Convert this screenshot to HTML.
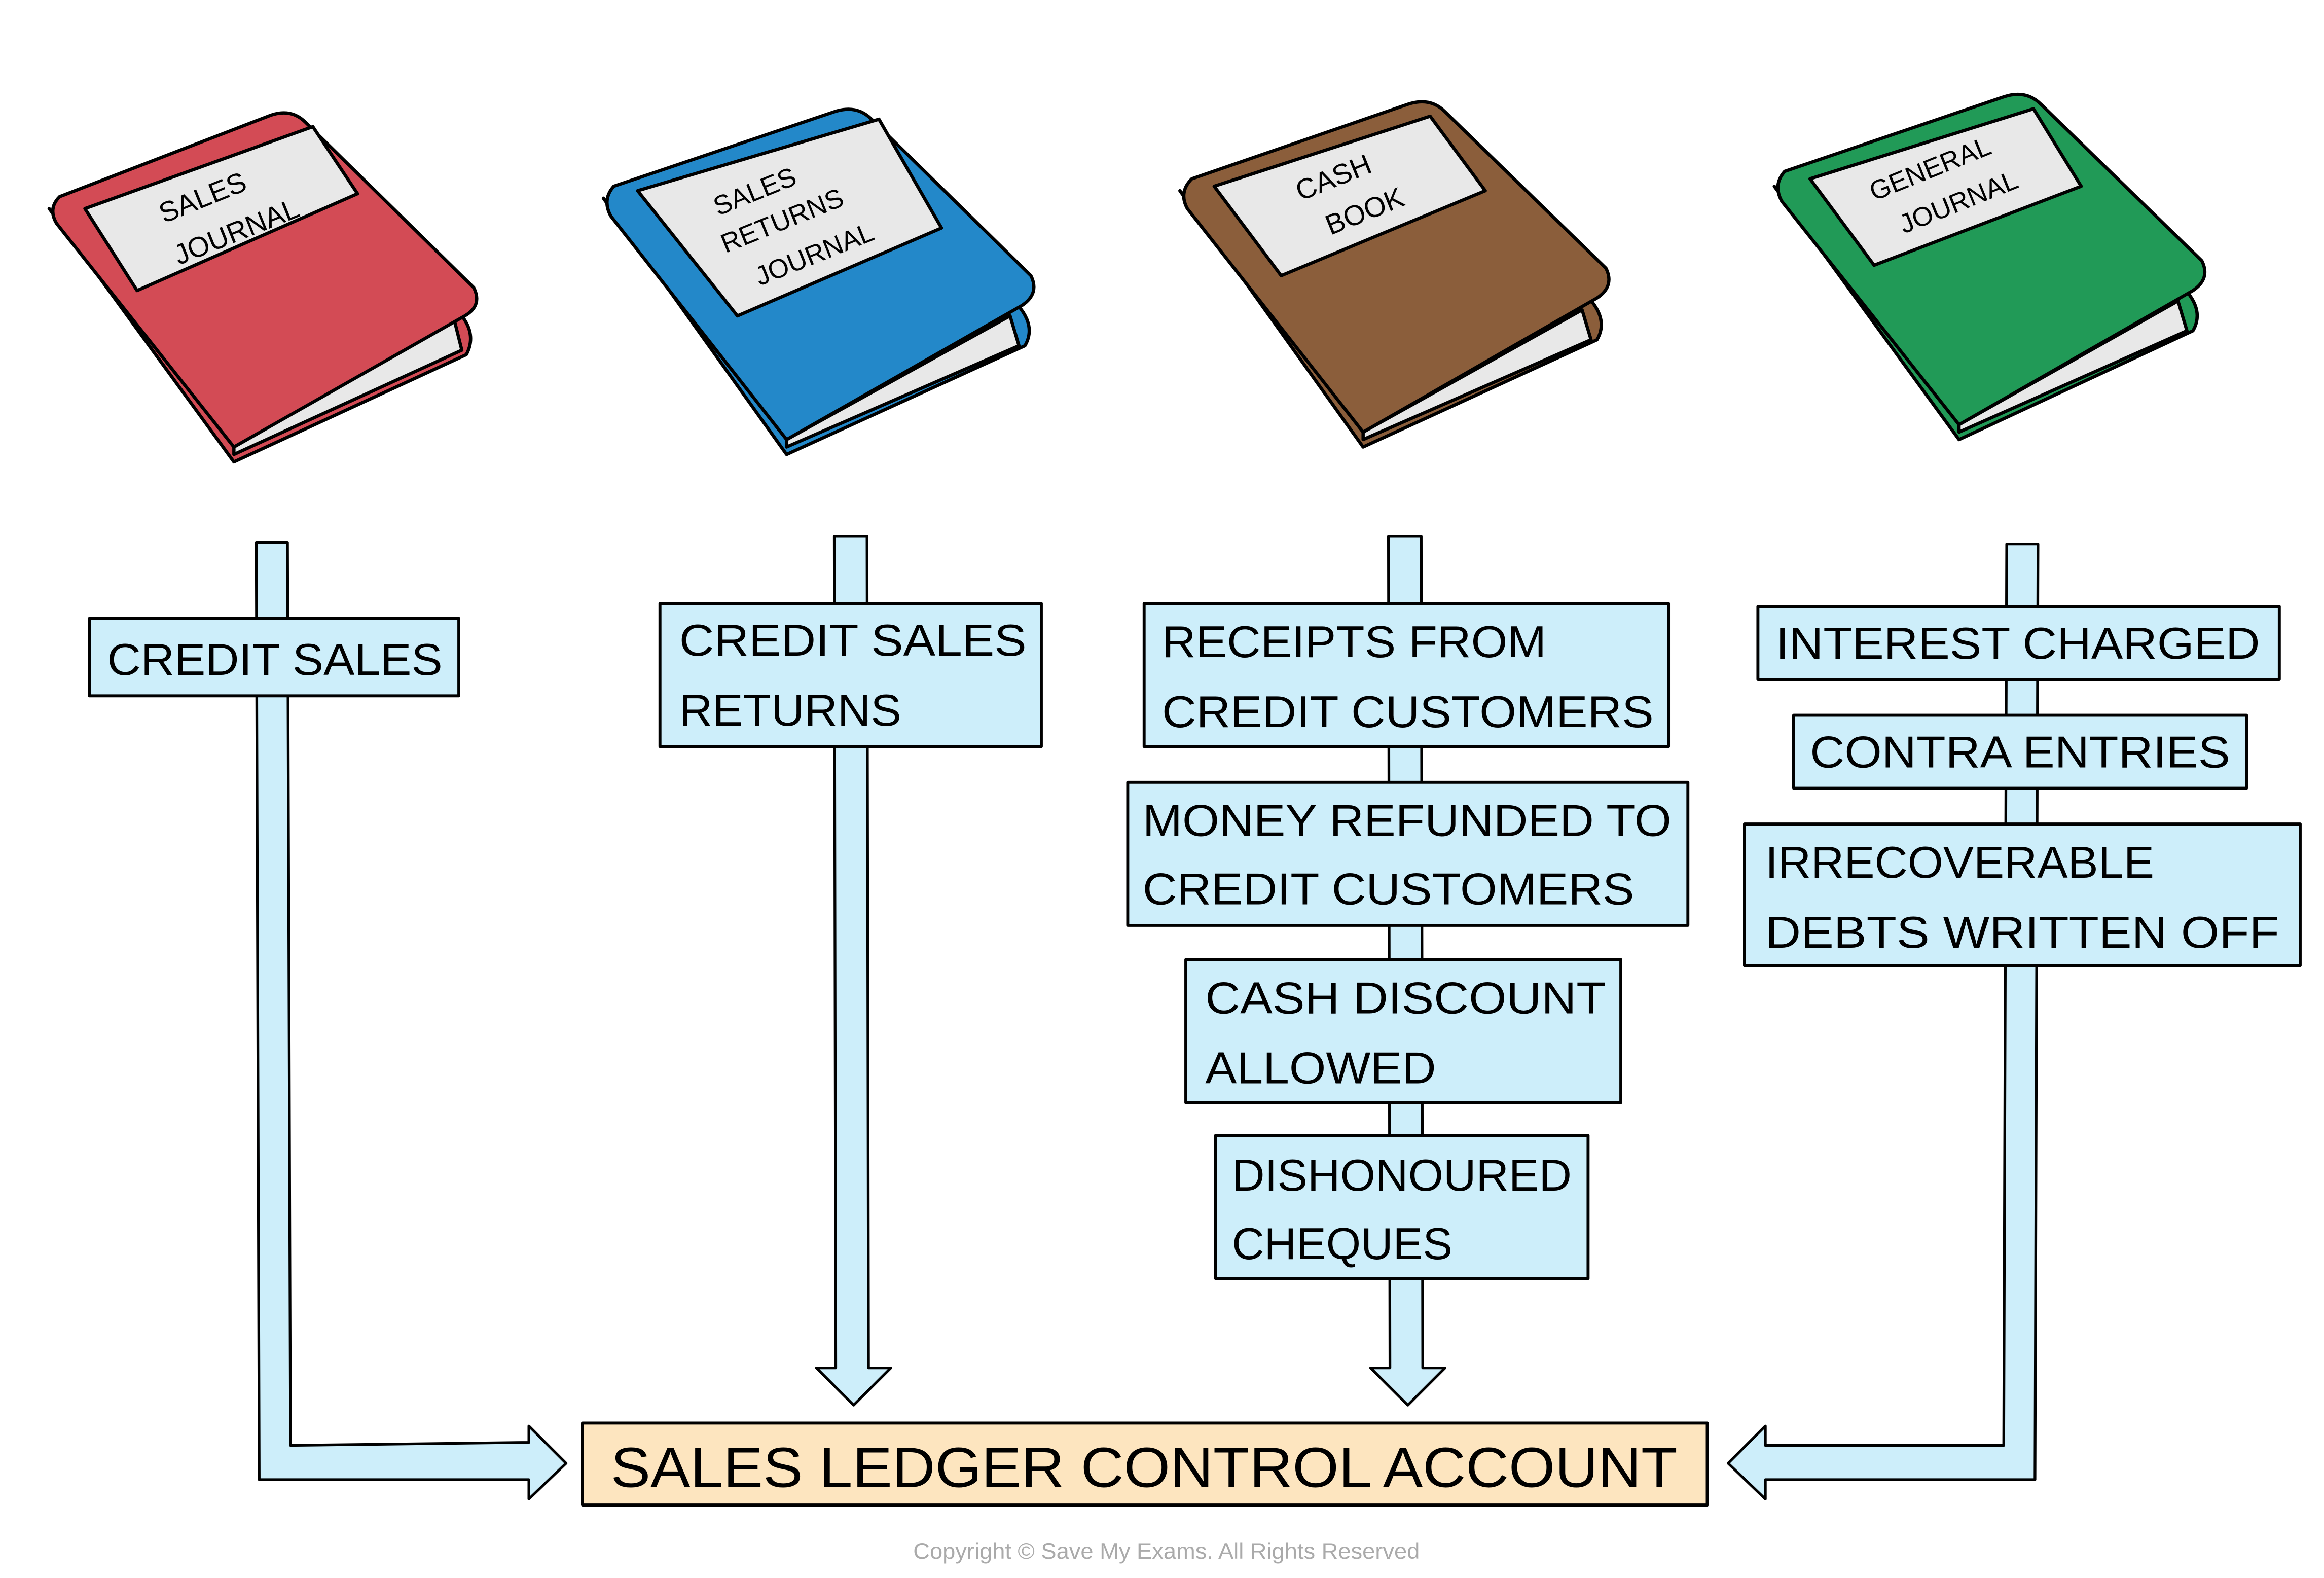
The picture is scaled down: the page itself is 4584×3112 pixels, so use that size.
<!DOCTYPE html>
<html><head><meta charset="utf-8"><style>
html,body{margin:0;padding:0;background:#fff}
svg{display:block}
text{font-family:"Liberation Sans",sans-serif}
</style></head><body>
<svg width="4584" height="3112" viewBox="0 0 1560 1059" preserveAspectRatio="none" xmlns="http://www.w3.org/2000/svg">
<rect width="1560" height="1059" fill="#fff"/>
<g stroke="#000" stroke-width="2.2" stroke-linejoin="round">
<!-- Books -->
<g id="b1">
<path d="M33,140 L157,310 L313,238 Q320,225 310,212 L300,200 L150,280 Z" fill="#d34b55"/>
<path d="M157,300 L305,215 L310,235 L157,305 Z" fill="#e8e8e8"/>
<path d="M40,132 L180,78 Q195,72 205,82 L318,193 Q324,205 312,212 L157,300 L38,150 Q32,140 40,132 Z" fill="#d34b55"/>
<path d="M57,140 L210,85 L240,130 L92,195 Z" fill="#e8e8e8"/>
<text x="0" y="0" font-size="19" stroke="none" transform="translate(110,150) rotate(-22)">SALES</text>
<text x="0" y="0" font-size="19" stroke="none" transform="translate(120,178) rotate(-22)">JOURNAL</text>
</g>
<g>
<path d="M405,133 L528,305 L688,232 Q695,220 685,207 L675,195 L520,275 Z" fill="#2388c9"/>
<path d="M528,295 L678,212 L684,232 L528,300 Z" fill="#e8e8e8"/>
<path d="M412,125 L560,75 Q575,70 585,80 L692,185 Q698,197 686,205 L528,295 L410,145 Q404,134 412,125 Z" fill="#2388c9"/>
<path d="M428,128 L590,80 L632,153 L495,212 Z" fill="#e8e8e8"/>
<text font-size="18" stroke="none" transform="translate(482,145) rotate(-22)">SALES</text>
<text font-size="18" stroke="none" transform="translate(487,170) rotate(-22)">RETURNS</text>
<text font-size="18" stroke="none" transform="translate(510,192) rotate(-22)">JOURNAL</text>
</g>
<g>
<path d="M792,128 L915,300 L1072,228 Q1079,216 1069,203 L1059,191 L905,270 Z" fill="#8b5e3b"/>
<path d="M915,290 L1062,208 L1068,228 L915,295 Z" fill="#e8e8e8"/>
<path d="M800,120 L945,70 Q960,65 970,75 L1078,180 Q1084,192 1072,200 L915,290 L797,140 Q791,129 800,120 Z" fill="#8b5e3b"/>
<path d="M815,125 L960,78 L997,128 L860,185 Z" fill="#e8e8e8"/>
<text font-size="19" stroke="none" transform="translate(873,135) rotate(-22)">CASH</text>
<text font-size="19" stroke="none" transform="translate(893,158) rotate(-22)">BOOK</text>
</g>
<g>
<path d="M1191,125 L1315,295 L1472,222 Q1479,210 1469,197 L1459,185 L1305,265 Z" fill="#219a57"/>
<path d="M1315,285 L1462,202 L1468,222 L1315,290 Z" fill="#e8e8e8"/>
<path d="M1198,115 L1345,65 Q1360,60 1370,70 L1478,175 Q1484,187 1472,195 L1315,285 L1196,135 Q1190,124 1198,115 Z" fill="#219a57"/>
<path d="M1215,120 L1365,73 L1397,125 L1258,178 Z" fill="#e8e8e8"/>
<text font-size="18" stroke="none" transform="translate(1258,135) rotate(-22)">GENERAL</text>
<text font-size="18" stroke="none" transform="translate(1278,157) rotate(-22)">JOURNAL</text>
</g>
<!-- Arrows -->
<g fill="#cdeefa" stroke-width="1.8">
<path d="M172,364 L193,364 L195,970 L355,968 L355,957 L380,982 L355,1006 L355,993 L174,993 Z"/>
<path d="M560,360 L582,360 L583,918 L598,918 L573,943 L548,918 L561,918 Z"/>
<path d="M932,360 L954,360 L955,918 L970,918 L945,943 L920,918 L933,918 Z"/>
<path d="M1347,365 L1368,365 L1366,993 L1185,993 L1185,1006 L1160,982 L1185,957 L1185,970 L1345,970 Z"/>
</g>
<!-- Boxes -->
<g fill="#cdeefa" stroke-width="2">
<rect x="60" y="415" width="248" height="52"/>
<rect x="443" y="405" width="256" height="96"/>
<rect x="768" y="405" width="352" height="96"/>
<rect x="757" y="525" width="376" height="96"/>
<rect x="796" y="644" width="292" height="96"/>
<rect x="816" y="762" width="250" height="96"/>
<rect x="1180" y="407" width="350" height="49"/>
<rect x="1204" y="480" width="304" height="49"/>
<rect x="1171" y="553" width="373" height="95"/>
<rect x="391" y="955" width="755" height="55" fill="#fde5bf"/>
</g>
</g>
<g font-size="30" fill="#000">
<text x="72" y="453" textLength="225" lengthAdjust="spacingAndGlyphs">CREDIT SALES</text>
<text x="456" y="440" textLength="233" lengthAdjust="spacingAndGlyphs">CREDIT SALES</text>
<text x="456" y="487" textLength="149" lengthAdjust="spacingAndGlyphs">RETURNS</text>
<text x="780" y="441" textLength="258" lengthAdjust="spacingAndGlyphs">RECEIPTS FROM</text>
<text x="780" y="488" textLength="330" lengthAdjust="spacingAndGlyphs">CREDIT CUSTOMERS</text>
<text x="767" y="561" textLength="355" lengthAdjust="spacingAndGlyphs">MONEY REFUNDED TO</text>
<text x="767" y="607" textLength="330" lengthAdjust="spacingAndGlyphs">CREDIT CUSTOMERS</text>
<text x="809" y="680" textLength="269" lengthAdjust="spacingAndGlyphs">CASH DISCOUNT</text>
<text x="809" y="727" textLength="155" lengthAdjust="spacingAndGlyphs">ALLOWED</text>
<text x="827" y="799" textLength="228" lengthAdjust="spacingAndGlyphs">DISHONOURED</text>
<text x="827" y="845" textLength="148" lengthAdjust="spacingAndGlyphs">CHEQUES</text>
<text x="1192" y="442" textLength="325" lengthAdjust="spacingAndGlyphs">INTEREST CHARGED</text>
<text x="1215" y="515" textLength="282" lengthAdjust="spacingAndGlyphs">CONTRA ENTRIES</text>
<text x="1185" y="589" textLength="261" lengthAdjust="spacingAndGlyphs">IRRECOVERABLE</text>
<text x="1185" y="636" textLength="345" lengthAdjust="spacingAndGlyphs">DEBTS WRITTEN OFF</text>
<text x="410" y="998" font-size="38" textLength="716" lengthAdjust="spacingAndGlyphs">SALES LEDGER CONTROL ACCOUNT</text>
</g>
<text x="783" y="1046" font-size="15" fill="#aaa" text-anchor="middle" textLength="340" lengthAdjust="spacingAndGlyphs">Copyright © Save My Exams. All Rights Reserved</text>
</svg>
</body></html>
